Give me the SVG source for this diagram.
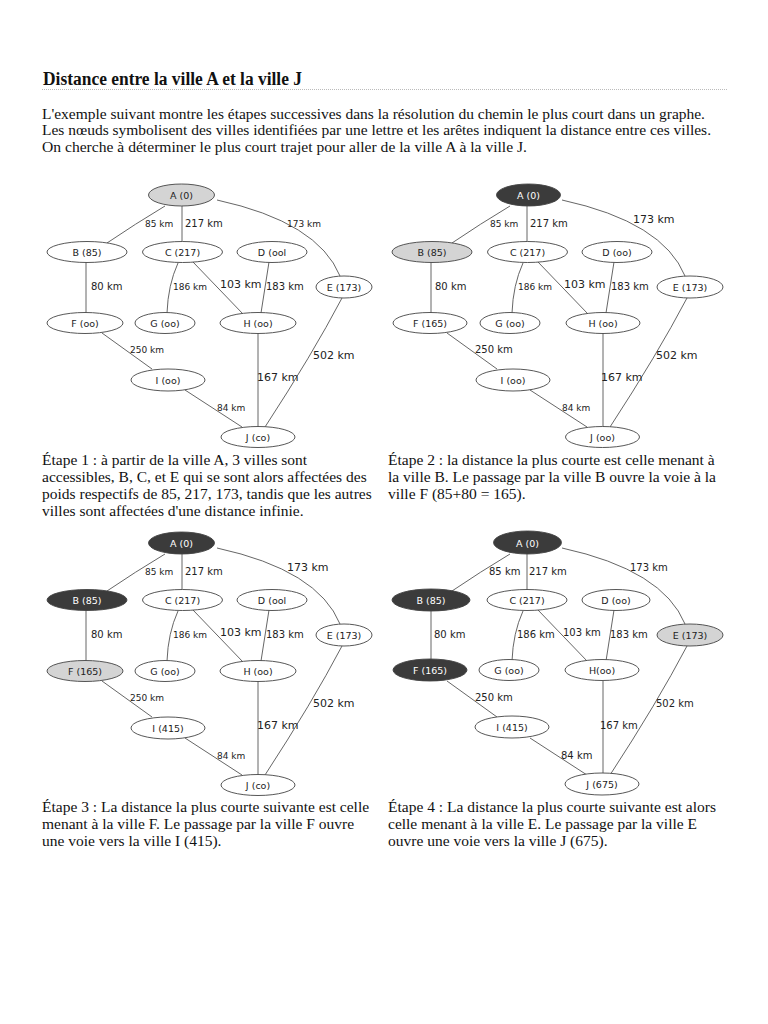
<svg xmlns="http://www.w3.org/2000/svg" width="768" height="1024" viewBox="0 0 768 1024">
<style>
.e{fill:none;stroke:#555;stroke-width:0.9}
.n ellipse{stroke:#444;stroke-width:0.9;fill:#fff}
.n text{font-family:"DejaVu Sans",sans-serif;font-size:9.5px;text-anchor:middle;fill:#222}
.dk ellipse{fill:#3b3b3b}
.dk text{fill:#fff}
.lt ellipse{fill:#d4d4d4}
.l{font-family:"DejaVu Sans",sans-serif;font-size:10px;fill:#222}
.s{font-size:9px}
.b{font-size:11px}
.t{font-family:"Liberation Serif",serif;font-size:15.5px;fill:#111}
.p{font-family:"Liberation Serif",serif;font-size:15.5px;fill:#111}
.h{font-family:"Liberation Serif",serif;font-size:18px;font-weight:bold;fill:#111}
</style>
<rect width="768" height="1024" fill="#fff"/>
<text class="h" x="43" y="85" textLength="259" lengthAdjust="spacingAndGlyphs">Distance entre la ville A et la ville J</text>
<line x1="42" y1="89.5" x2="728" y2="89.5" stroke="#bbb" stroke-width="1" stroke-dasharray="1,1"/>
<text class="p" x="42" y="119" textLength="663" lengthAdjust="spacingAndGlyphs">L'exemple suivant montre les étapes successives dans la résolution du chemin le plus court dans un graphe.</text>
<text class="p" x="42" y="135" textLength="669" lengthAdjust="spacingAndGlyphs">Les nœuds symbolisent des villes identifiées par une lettre et les arêtes indiquent la distance entre ces villes.</text>
<text class="p" x="42" y="152" textLength="485" lengthAdjust="spacingAndGlyphs">On cherche à déterminer le plus court trajet pour aller de la ville A à la ville J.</text>

<!-- Graph 1 -->
<g id="graph1">
<g id="g1-edges">
<path class="e" d="M165,206 Q135,224 107,243"/>
<path class="e" d="M182,206 L182,242"/>
<path class="e" d="M217,200 Q318,222 340,276"/>
<path class="e" d="M86,262 L86,313"/>
<path class="e" d="M178,263 Q168,285 167,313"/>
<path class="e" d="M193,262 L243,314"/>
<path class="e" d="M269,262 L261,313"/>
<path class="e" d="M342,298 Q312,355 265,427"/>
<path class="e" d="M102,333 L152,369"/>
<path class="e" d="M258,333 L258,427"/>
<path class="e" d="M185,390 L242,427"/>
<text class="l s" x="145" y="227">85 km</text>
<text class="l" x="185" y="227">217 km</text>
<text class="l s" x="287" y="227">173 km</text>
<text class="l" x="91" y="290">80 km</text>
<text class="l s" x="173" y="290">186 km</text>
<text class="l b" x="220" y="288">103 km</text>
<text class="l" x="266" y="290">183 km</text>
<text class="l s" x="130" y="353">250 km</text>
<text class="l b" x="313" y="359">502 km</text>
<text class="l b" x="257" y="381">167 km</text>
<text class="l s" x="217" y="411">84 km</text>
</g>
<g id="g1-A" class="n lt"><ellipse cx="181.5" cy="195" rx="33" ry="11"/><text x="181.5" y="199">A (0)</text></g>
<g id="g1-B" class="n"><ellipse cx="87" cy="252" rx="40" ry="10.5"/><text x="87" y="256">B (85)</text></g>
<g id="g1-C" class="n"><ellipse cx="182.5" cy="252" rx="40" ry="10.5"/><text x="182.5" y="256">C (217)</text></g>
<g id="g1-D" class="n"><ellipse cx="272" cy="252" rx="35" ry="10.5"/><text x="272" y="256">D (ool</text></g>
<g id="g1-E" class="n"><ellipse cx="344" cy="287" rx="28" ry="11"/><text x="344" y="291">E (173)</text></g>
<g id="g1-F" class="n"><ellipse cx="85" cy="323" rx="38" ry="10.5"/><text x="85" y="327">F (oo)</text></g>
<g id="g1-G" class="n"><ellipse cx="165" cy="323" rx="30" ry="10.5"/><text x="165" y="327">G (oo)</text></g>
<g id="g1-H" class="n"><ellipse cx="258" cy="323" rx="38" ry="10.5"/><text x="258" y="327">H (oo)</text></g>
<g id="g1-I" class="n"><ellipse cx="168" cy="380" rx="37" ry="11"/><text x="168" y="384">I (oo)</text></g>
<g id="g1-J" class="n"><ellipse cx="258" cy="437" rx="37" ry="10.5"/><text x="258" y="441">J (co)</text></g>
</g>

<!-- Graph 2 -->
<g id="graph2" transform="translate(345,0)">
<g id="g2-edges">
<path class="e" d="M165,206 Q135,224 107,243"/>
<path class="e" d="M182,206 L182,242"/>
<path class="e" d="M217,200 Q318,222 340,276"/>
<path class="e" d="M86,262 L86,313"/>
<path class="e" d="M178,263 Q168,285 167,313"/>
<path class="e" d="M193,262 L243,314"/>
<path class="e" d="M269,262 L261,313"/>
<path class="e" d="M342,298 Q312,355 265,427"/>
<path class="e" d="M102,333 L152,369"/>
<path class="e" d="M258,333 L258,427"/>
<path class="e" d="M185,390 L242,427"/>
<text class="l s" x="145" y="227">85 km</text>
<text class="l" x="185" y="227">217 km</text>
<text class="l b" x="288" y="223">173 km</text>
<text class="l" x="90" y="290">80 km</text>
<text class="l s" x="173" y="290">186 km</text>
<text class="l b" x="219" y="288">103 km</text>
<text class="l" x="266" y="290">183 km</text>
<text class="l" x="130" y="353">250 km</text>
<text class="l b" x="311" y="359">502 km</text>
<text class="l b" x="256" y="381">167 km</text>
<text class="l s" x="217" y="411">84 km</text>
</g>
<g id="g2-A" class="n dk"><ellipse cx="183.5" cy="195" rx="32" ry="11"/><text x="183.5" y="199">A (0)</text></g>
<g id="g2-B" class="n lt"><ellipse cx="87" cy="252" rx="40" ry="10.5"/><text x="87" y="256">B (85)</text></g>
<g id="g2-C" class="n"><ellipse cx="182.5" cy="252" rx="40" ry="10.5"/><text x="182.5" y="256">C (217)</text></g>
<g id="g2-D" class="n"><ellipse cx="272" cy="252" rx="35" ry="10.5"/><text x="272" y="256">D (oo)</text></g>
<g id="g2-E" class="n"><ellipse cx="345" cy="287" rx="33" ry="11"/><text x="345" y="291">E (173)</text></g>
<g id="g2-F" class="n"><ellipse cx="85" cy="323" rx="37" ry="10.5"/><text x="85" y="327">F (165)</text></g>
<g id="g2-G" class="n"><ellipse cx="165" cy="323" rx="30" ry="10.5"/><text x="165" y="327">G (oo)</text></g>
<g id="g2-H" class="n"><ellipse cx="258" cy="323" rx="37" ry="10.5"/><text x="258" y="327">H (oo)</text></g>
<g id="g2-I" class="n"><ellipse cx="168" cy="380" rx="37" ry="11"/><text x="168" y="384">I (oo)</text></g>
<g id="g2-J" class="n"><ellipse cx="257.5" cy="437" rx="37" ry="10.5"/><text x="257.5" y="441">J (oo)</text></g>
</g>

<!-- Graph 3 -->
<g id="graph3" transform="translate(0,348)">
<g id="g3-edges">
<path class="e" d="M165,206 Q135,224 107,243"/>
<path class="e" d="M182,206 L182,242"/>
<path class="e" d="M217,200 Q318,222 340,276"/>
<path class="e" d="M86,262 L86,313"/>
<path class="e" d="M178,263 Q168,285 167,313"/>
<path class="e" d="M193,262 L243,314"/>
<path class="e" d="M269,262 L261,313"/>
<path class="e" d="M342,298 Q312,355 265,427"/>
<path class="e" d="M102,333 L152,369"/>
<path class="e" d="M258,333 L258,427"/>
<path class="e" d="M185,390 L242,427"/>
<text class="l s" x="145" y="227">85 km</text>
<text class="l" x="185" y="227">217 km</text>
<text class="l b" x="287" y="223">173 km</text>
<text class="l" x="91" y="290">80 km</text>
<text class="l s" x="173" y="290">186 km</text>
<text class="l b" x="220" y="288">103 km</text>
<text class="l" x="266" y="290">183 km</text>
<text class="l s" x="130" y="353">250 km</text>
<text class="l b" x="313" y="359">502 km</text>
<text class="l b" x="257" y="381">167 km</text>
<text class="l s" x="217" y="411">84 km</text>
</g>
<g id="g3-A" class="n dk"><ellipse cx="181.5" cy="195" rx="33" ry="11"/><text x="181.5" y="199">A (0)</text></g>
<g id="g3-B" class="n dk"><ellipse cx="87" cy="252" rx="40" ry="10.5"/><text x="87" y="256">B (85)</text></g>
<g id="g3-C" class="n"><ellipse cx="182.5" cy="252" rx="40" ry="10.5"/><text x="182.5" y="256">C (217)</text></g>
<g id="g3-D" class="n"><ellipse cx="272" cy="252" rx="35" ry="10.5"/><text x="272" y="256">D (ool</text></g>
<g id="g3-E" class="n"><ellipse cx="344" cy="287" rx="28" ry="11"/><text x="344" y="291">E (173)</text></g>
<g id="g3-F" class="n lt"><ellipse cx="85" cy="323" rx="38" ry="10.5"/><text x="85" y="327">F (165)</text></g>
<g id="g3-G" class="n"><ellipse cx="165" cy="323" rx="30" ry="10.5"/><text x="165" y="327">G (oo)</text></g>
<g id="g3-H" class="n"><ellipse cx="258" cy="323" rx="38" ry="10.5"/><text x="258" y="327">H (oo)</text></g>
<g id="g3-I" class="n"><ellipse cx="168" cy="380" rx="37" ry="11"/><text x="168" y="384">I (415)</text></g>
<g id="g3-J" class="n"><ellipse cx="258" cy="437" rx="37" ry="10.5"/><text x="258" y="441">J (co)</text></g>
</g>

<!-- Graph 4 -->
<g id="graph4" transform="translate(345,348)">
<g id="g4-edges">
<path class="e" d="M165,206 Q135,224 107,243"/>
<path class="e" d="M182,206 L182,242"/>
<path class="e" d="M217,200 Q318,222 340,276"/>
<path class="e" d="M86,262 L86,313"/>
<path class="e" d="M178,263 Q168,285 167,313"/>
<path class="e" d="M193,262 L243,314"/>
<path class="e" d="M269,262 L261,313"/>
<path class="e" d="M342,298 Q312,355 265,427"/>
<path class="e" d="M102,333 L152,369"/>
<path class="e" d="M258,333 L258,427"/>
<path class="e" d="M185,390 L242,427"/>
<text class="l" x="144" y="227">85 km</text>
<text class="l" x="184" y="227">217 km</text>
<text class="l" x="285" y="223">173 km</text>
<text class="l" x="89" y="290">80 km</text>
<text class="l" x="172" y="290">186 km</text>
<text class="l" x="218" y="288">103 km</text>
<text class="l" x="265" y="290">183 km</text>
<text class="l" x="130" y="353">250 km</text>
<text class="l" x="311" y="359">502 km</text>
<text class="l" x="255" y="381">167 km</text>
<text class="l" x="216" y="411">84 km</text>
</g>
<g id="g4-A" class="n dk"><ellipse cx="182.5" cy="194.5" rx="34" ry="11.5"/><text x="182.5" y="198.5">A (0)</text></g>
<g id="g4-B" class="n dk"><ellipse cx="86" cy="252" rx="39" ry="11"/><text x="86" y="256">B (85)</text></g>
<g id="g4-C" class="n"><ellipse cx="182" cy="252" rx="40" ry="10.5"/><text x="182" y="256">C (217)</text></g>
<g id="g4-D" class="n"><ellipse cx="271" cy="252" rx="34" ry="10.5"/><text x="271" y="256">D (oo)</text></g>
<g id="g4-E" class="n lt"><ellipse cx="345" cy="287" rx="33" ry="11"/><text x="345" y="291">E (173)</text></g>
<g id="g4-F" class="n dk"><ellipse cx="85" cy="322" rx="37" ry="11"/><text x="85" y="326">F (165)</text></g>
<g id="g4-G" class="n"><ellipse cx="164" cy="322" rx="30" ry="10.5"/><text x="164" y="326">G (oo)</text></g>
<g id="g4-H" class="n"><ellipse cx="257" cy="322" rx="37" ry="10.5"/><text x="257" y="326">H(oo)</text></g>
<g id="g4-I" class="n"><ellipse cx="167" cy="379" rx="37" ry="11"/><text x="167" y="383">I (415)</text></g>
<g id="g4-J" class="n"><ellipse cx="257" cy="436" rx="37" ry="11"/><text x="257" y="440">J (675)</text></g>
</g>

<!-- Captions -->
<g id="captions">
<text class="t" x="42" y="465">Étape 1 : à partir de la ville A, 3 villes sont</text>
<text class="t" x="42" y="482">accessibles, B, C, et E qui se sont alors affectées des</text>
<text class="t" x="42" y="499">poids respectifs de 85, 217, 173, tandis que les autres</text>
<text class="t" x="42" y="516">villes sont affectées d'une distance infinie.</text>
<text class="t" x="388" y="465">Étape 2 : la distance la plus courte est celle menant à</text>
<text class="t" x="388" y="482">la ville B. Le passage par la ville B ouvre la voie à la</text>
<text class="t" x="388" y="499">ville F (85+80 = 165).</text>
<text class="t" x="42" y="812">Étape 3 : La distance la plus courte suivante est celle</text>
<text class="t" x="42" y="829">menant à la ville F. Le passage par la ville F ouvre</text>
<text class="t" x="42" y="846">une voie vers la ville I (415).</text>
<text class="t" x="388" y="812">Étape 4 : La distance la plus courte suivante est alors</text>
<text class="t" x="388" y="829">celle menant à la ville E. Le passage par la ville E</text>
<text class="t" x="388" y="846">ouvre une voie vers la ville J (675).</text>
</g>
</svg>
